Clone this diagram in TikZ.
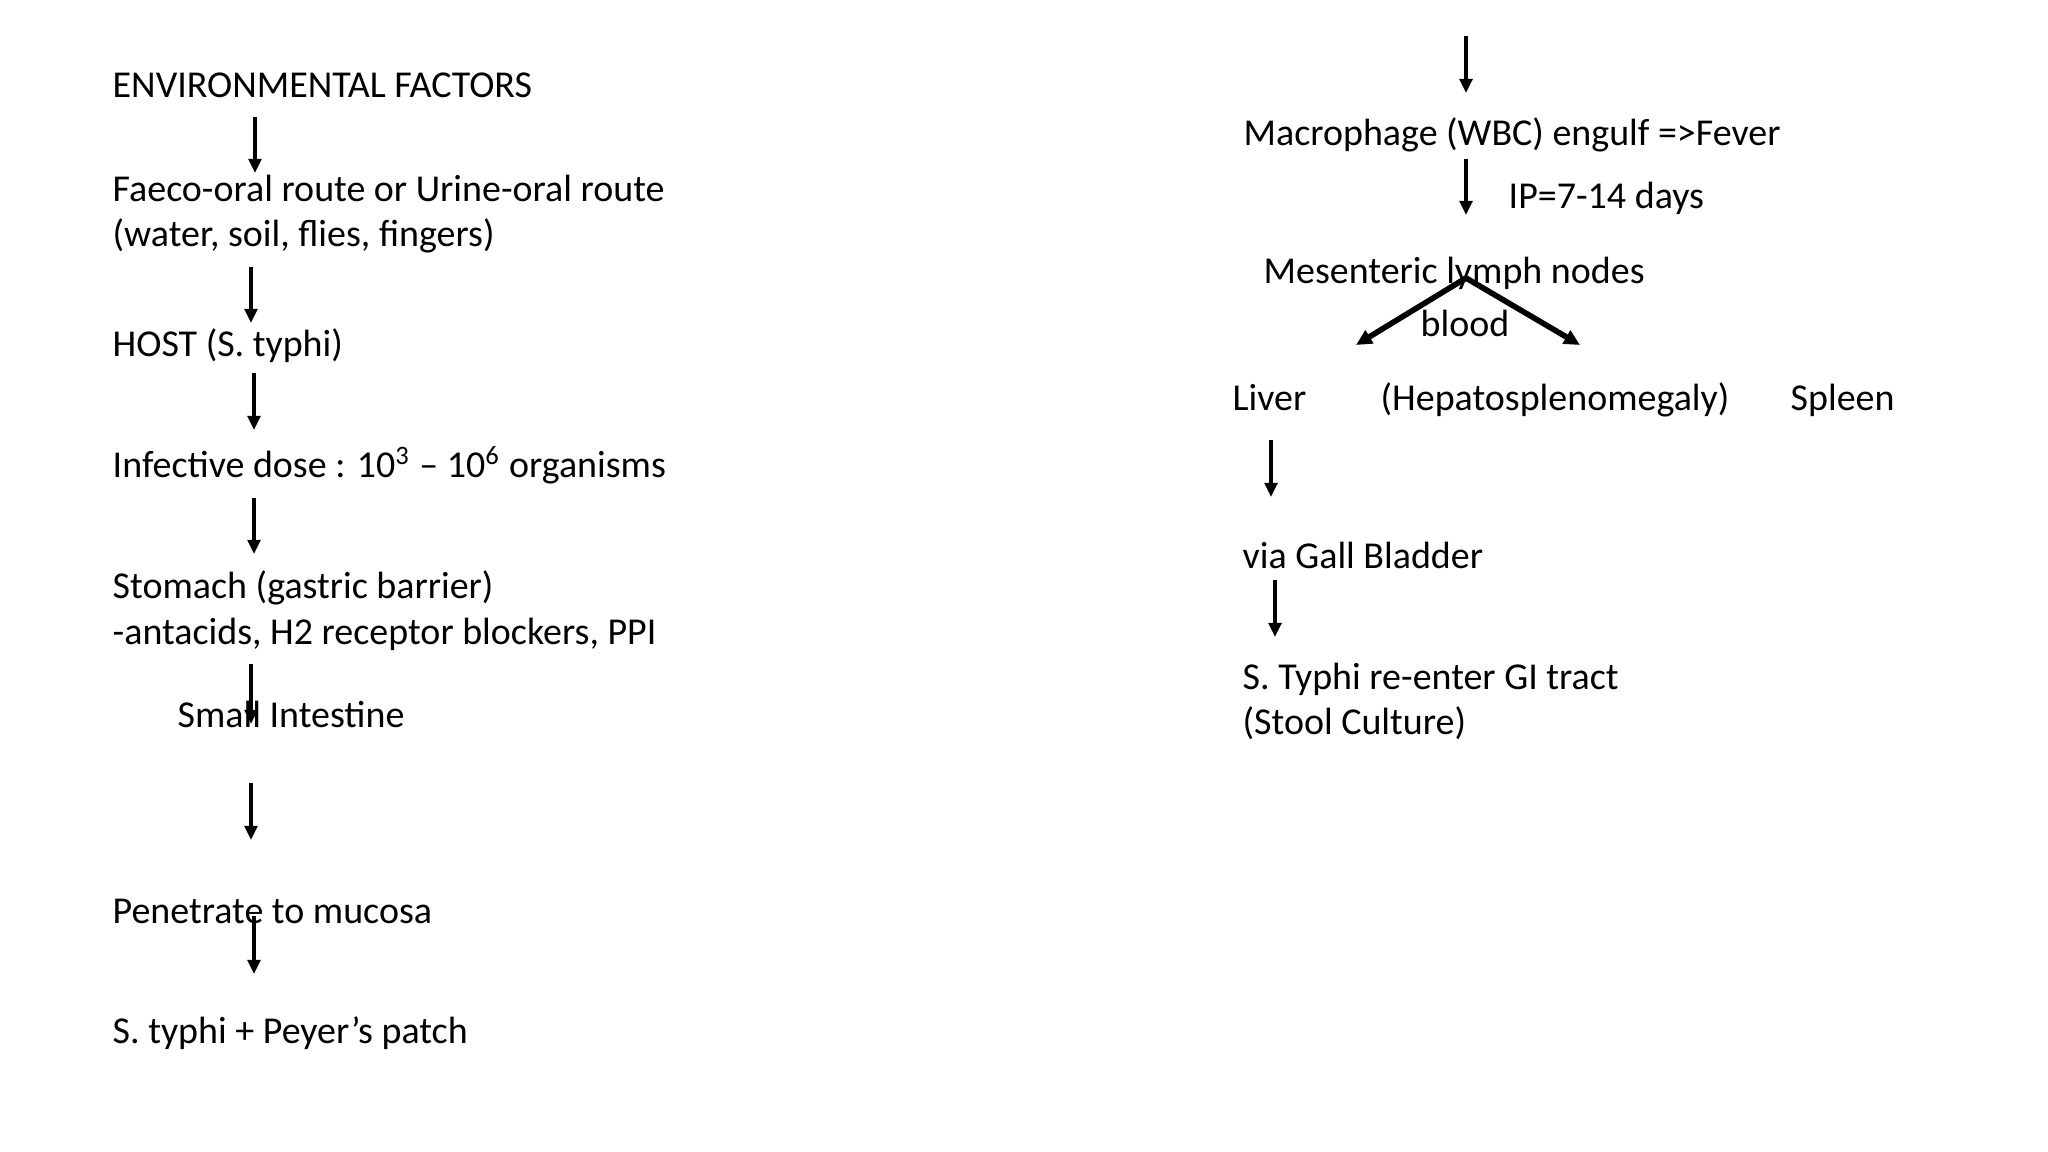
\documentclass[tikz,border=0pt]{standalone}
\usepackage{fontspec}
\setmainfont{Carlito}
\usepackage{xcolor}
\usetikzlibrary{arrows.meta}

\begin{document}
\begin{tikzpicture}[x=0.01cm, y=-0.01cm,
    txt/.style={anchor=base west, inner sep=0pt, align=left, font=\fontsize{10.8}{12.8}\selectfont},
    flow/.style={-{Triangle[length=4pt,width=3.6pt]}, line width=1.1pt},
    split/.style={-{Triangle[length=4.5pt,width=4.2pt]}, line width=1.6pt}]
        \useasboundingbox[fill=white] (0,0) rectangle (2048,1152);
        % left column
        \node[txt] (env) at (112,98) {ENVIRONMENTAL FACTORS};
        \node[txt] (route) at (112,247) {Faeco-oral route or Urine-oral route\\(water, soil, flies, fingers)};
        \node[txt] (host) at (112,357) {HOST (S. typhi)};
        \node[txt] (dose) at (112,478) {Infective dose : 10\textsuperscript{3} – 10\textsuperscript{6} organisms};
        \node[txt] (stomach) at (112,644) {Stomach (gastric barrier)\\-antacids, H2 receptor blockers, PPI};
        \node[txt] (intestine) at (177,727) {Small Intestine};
        \node[txt] (mucosa) at (112,923) {Penetrate to mucosa};
        \node[txt] (peyer) at (112,1043) {S. typhi + Peyer’s patch};
        % right column
        \node[txt] (macro) at (1243,146) {Macrophage (WBC) engulf =>Fever};
        \node[txt] (ip) at (1508,209) {IP=7-14 days};
        \node[txt] (mesen) at (1263,284) {Mesenteric lymph nodes};
        \node[txt] (blood) at (1420,337) {blood};
        \node[txt] (liver) at (1232,411) {Liver};
        \node[txt] (hepato) at (1380,411) {(Hepatosplenomegaly)};
        \node[txt] (spleen) at (1790,411) {Spleen};
        \node[txt] (gall) at (1242,568) {via Gall Bladder};
        \node[txt] (reenter) at (1242,735) {S. Typhi re-enter GI tract\\(Stool Culture)};
        % arrow ends
        \coordinate (env-s) at (255,117); \coordinate (route-n) at (255,173);
        \coordinate (route-s) at (251,267); \coordinate (host-n) at (251,323);
        \coordinate (host-s) at (254,373); \coordinate (dose-n) at (254,430);
        \coordinate (dose-s) at (254,498); \coordinate (stomach-n) at (254,554);
        \coordinate (stomach-s) at (251,664); \coordinate (intestine-n) at (251,724);
        \coordinate (intestine-s) at (251,783); \coordinate (mucosa-n) at (251,840);
        \coordinate (mucosa-s) at (254,916); \coordinate (peyer-n) at (254,974);
        \coordinate (top-s) at (1466,36); \coordinate (macro-n) at (1466,93);
        \coordinate (macro-s) at (1466,159); \coordinate (mesen-n) at (1466,215);
        \coordinate (fork) at (1466,278);
        \coordinate (liver-n) at (1356,345); \coordinate (spleen-n) at (1580,345);
        \coordinate (liver-s) at (1271,440); \coordinate (gall-n) at (1271,497);
        \coordinate (gall-s) at (1275,580); \coordinate (reenter-n) at (1275,637);
        \draw[flow] (env-s) -- (route-n);
        \draw[flow] (route-s) -- (host-n);
        \draw[flow] (host-s) -- (dose-n);
        \draw[flow] (dose-s) -- (stomach-n);
        \draw[flow] (stomach-s) -- (intestine-n);
        \draw[flow] (intestine-s) -- (mucosa-n);
        \draw[flow] (mucosa-s) -- (peyer-n);
        \draw[flow] (top-s) -- (macro-n);
        \draw[flow] (macro-s) -- (mesen-n);
        \draw[split] (fork) -- (liver-n);
        \draw[split] (fork) -- (spleen-n);
        \draw[flow] (liver-s) -- (gall-n);
        \draw[flow] (gall-s) -- (reenter-n);
    \end{tikzpicture}
\end{document}
